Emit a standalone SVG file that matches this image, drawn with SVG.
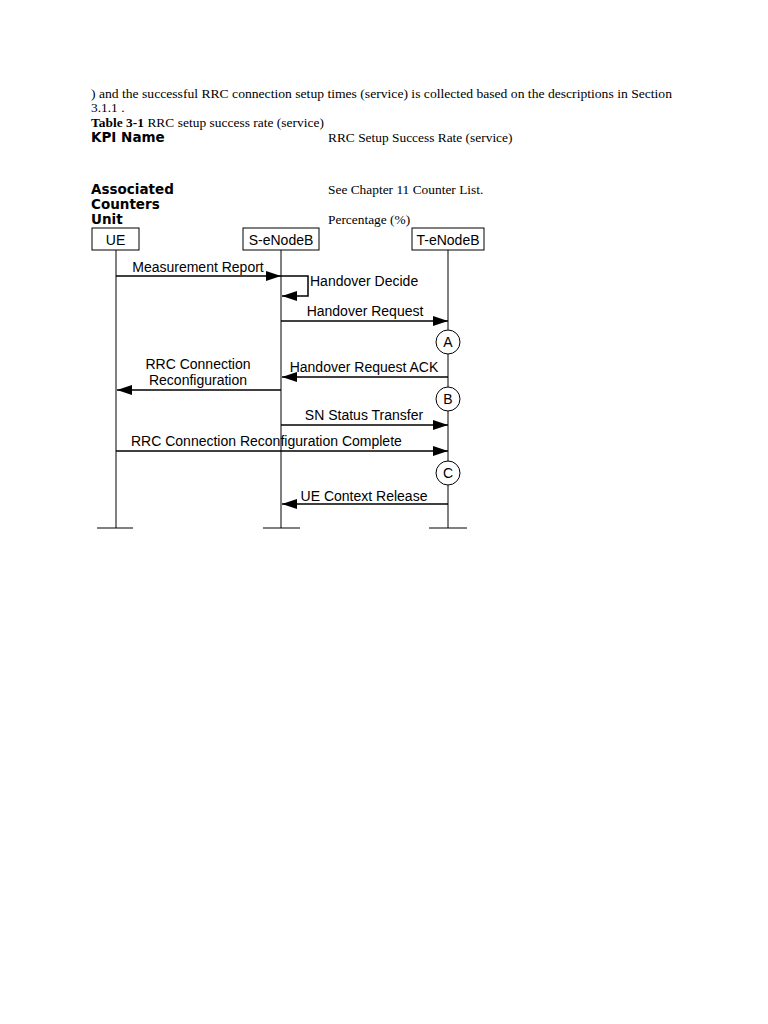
<svg xmlns="http://www.w3.org/2000/svg" width="768" height="1024" viewBox="0 0 768 1024">
<defs>
<marker id="ah" markerWidth="15" markerHeight="10" refX="15" refY="5" orient="auto" markerUnits="userSpaceOnUse">
<path d="M0,0 L15,5 L0,10 Z" fill="#000"/>
</marker>
<style>
.serif{font-family:"Liberation Serif","Times New Roman",serif;font-size:13.4px;fill:#000}
.hb{font-family:"DejaVu Sans",sans-serif;font-weight:bold;font-size:13.5px;fill:#000}
.lbl{font-family:"Liberation Sans",Arial,sans-serif;font-size:14px;fill:#000}
.box{fill:#fff;stroke:#000;stroke-width:1}
.life{stroke:#000;stroke-width:1;fill:none}
.msg{stroke:#000;stroke-width:1.5;fill:none;marker-end:url(#ah)}
.circ{fill:#fff;stroke:#000;stroke-width:1}
</style>
</defs>
<rect width="768" height="1024" fill="#fff"/>
<g id="header">
<text class="serif" x="91" y="98" textLength="581" lengthAdjust="spacingAndGlyphs">) and the successful RRC connection setup times (service) is collected based on the descriptions in Section</text>
<text class="serif" x="91" y="112">3.1.1 .</text>
<text class="serif" x="91" y="127" textLength="233"><tspan font-weight="bold">Table 3-1</tspan> RRC setup success rate (service)</text>
<text class="hb" x="91" y="142">KPI Name</text>
<text class="serif" x="328" y="142">RRC Setup Success Rate (service)</text>
<text class="hb" x="91" y="194">Associated</text>
<text class="hb" x="91" y="209">Counters</text>
<text class="hb" x="91" y="224">Unit</text>
<text class="serif" x="328" y="194">See Chapter 11 Counter List.</text>
<text class="serif" x="328" y="224">Percentage (%)</text>
</g>
<g id="UE">
<rect class="box" x="92" y="228" width="47" height="22"/>
<text class="lbl" x="115.5" y="244.5" text-anchor="middle">UE</text>
<line class="life" x1="116" y1="250" x2="116" y2="528"/>
<line class="life" x1="97" y1="528" x2="133" y2="528"/>
</g>
<g id="S-eNodeB">
<rect class="box" x="243" y="228" width="76" height="22"/>
<text class="lbl" x="281" y="244.5" text-anchor="middle">S-eNodeB</text>
<line class="life" x1="281" y1="250" x2="281" y2="528"/>
<line class="life" x1="263" y1="528" x2="300" y2="528"/>
</g>
<g id="T-eNodeB">
<rect class="box" x="412" y="228" width="72" height="22"/>
<text class="lbl" x="448" y="244.5" text-anchor="middle">T-eNodeB</text>
<line class="life" x1="448" y1="250" x2="448" y2="528"/>
<line class="life" x1="429" y1="528" x2="467" y2="528"/>
</g>
<g id="connectors">
<path class="msg" d="M116,276 L281,276"/>
<path class="msg" d="M281,276 L308,276 L308,296 L282,296"/>
<path class="msg" d="M281,321 L448,321"/>
<path class="msg" d="M448,377 L282,377"/>
<path class="msg" d="M281,390 L117,390"/>
<path class="msg" d="M281,425 L448,425"/>
<path class="msg" d="M116,451 L448,451"/>
<path class="msg" d="M448,504 L282,504"/>
</g>
<g id="labels">
<text class="lbl" x="198" y="272" text-anchor="middle">Measurement Report</text>
<text class="lbl" x="310" y="286">Handover Decide</text>
<text class="lbl" x="365" y="316" text-anchor="middle">Handover Request</text>
<text class="lbl" x="364" y="372" text-anchor="middle">Handover Request ACK</text>
<text class="lbl" x="198" y="369" text-anchor="middle">RRC Connection</text>
<text class="lbl" x="198" y="385" text-anchor="middle">Reconfiguration</text>
<text class="lbl" x="364" y="420" text-anchor="middle">SN Status Transfer</text>
<text class="lbl" x="131" y="446">RRC Connection Reconfiguration Complete</text>
<text class="lbl" x="364" y="501" text-anchor="middle">UE Context Release</text>
</g>
<g id="A">
<circle class="circ" cx="448" cy="342" r="12"/>
<text class="lbl" x="448" y="347" text-anchor="middle">A</text>
</g>
<g id="B">
<circle class="circ" cx="448" cy="399" r="12"/>
<text class="lbl" x="448" y="404" text-anchor="middle">B</text>
</g>
<g id="C">
<circle class="circ" cx="448" cy="473" r="12"/>
<text class="lbl" x="448" y="478" text-anchor="middle">C</text>
</g>
</svg>
